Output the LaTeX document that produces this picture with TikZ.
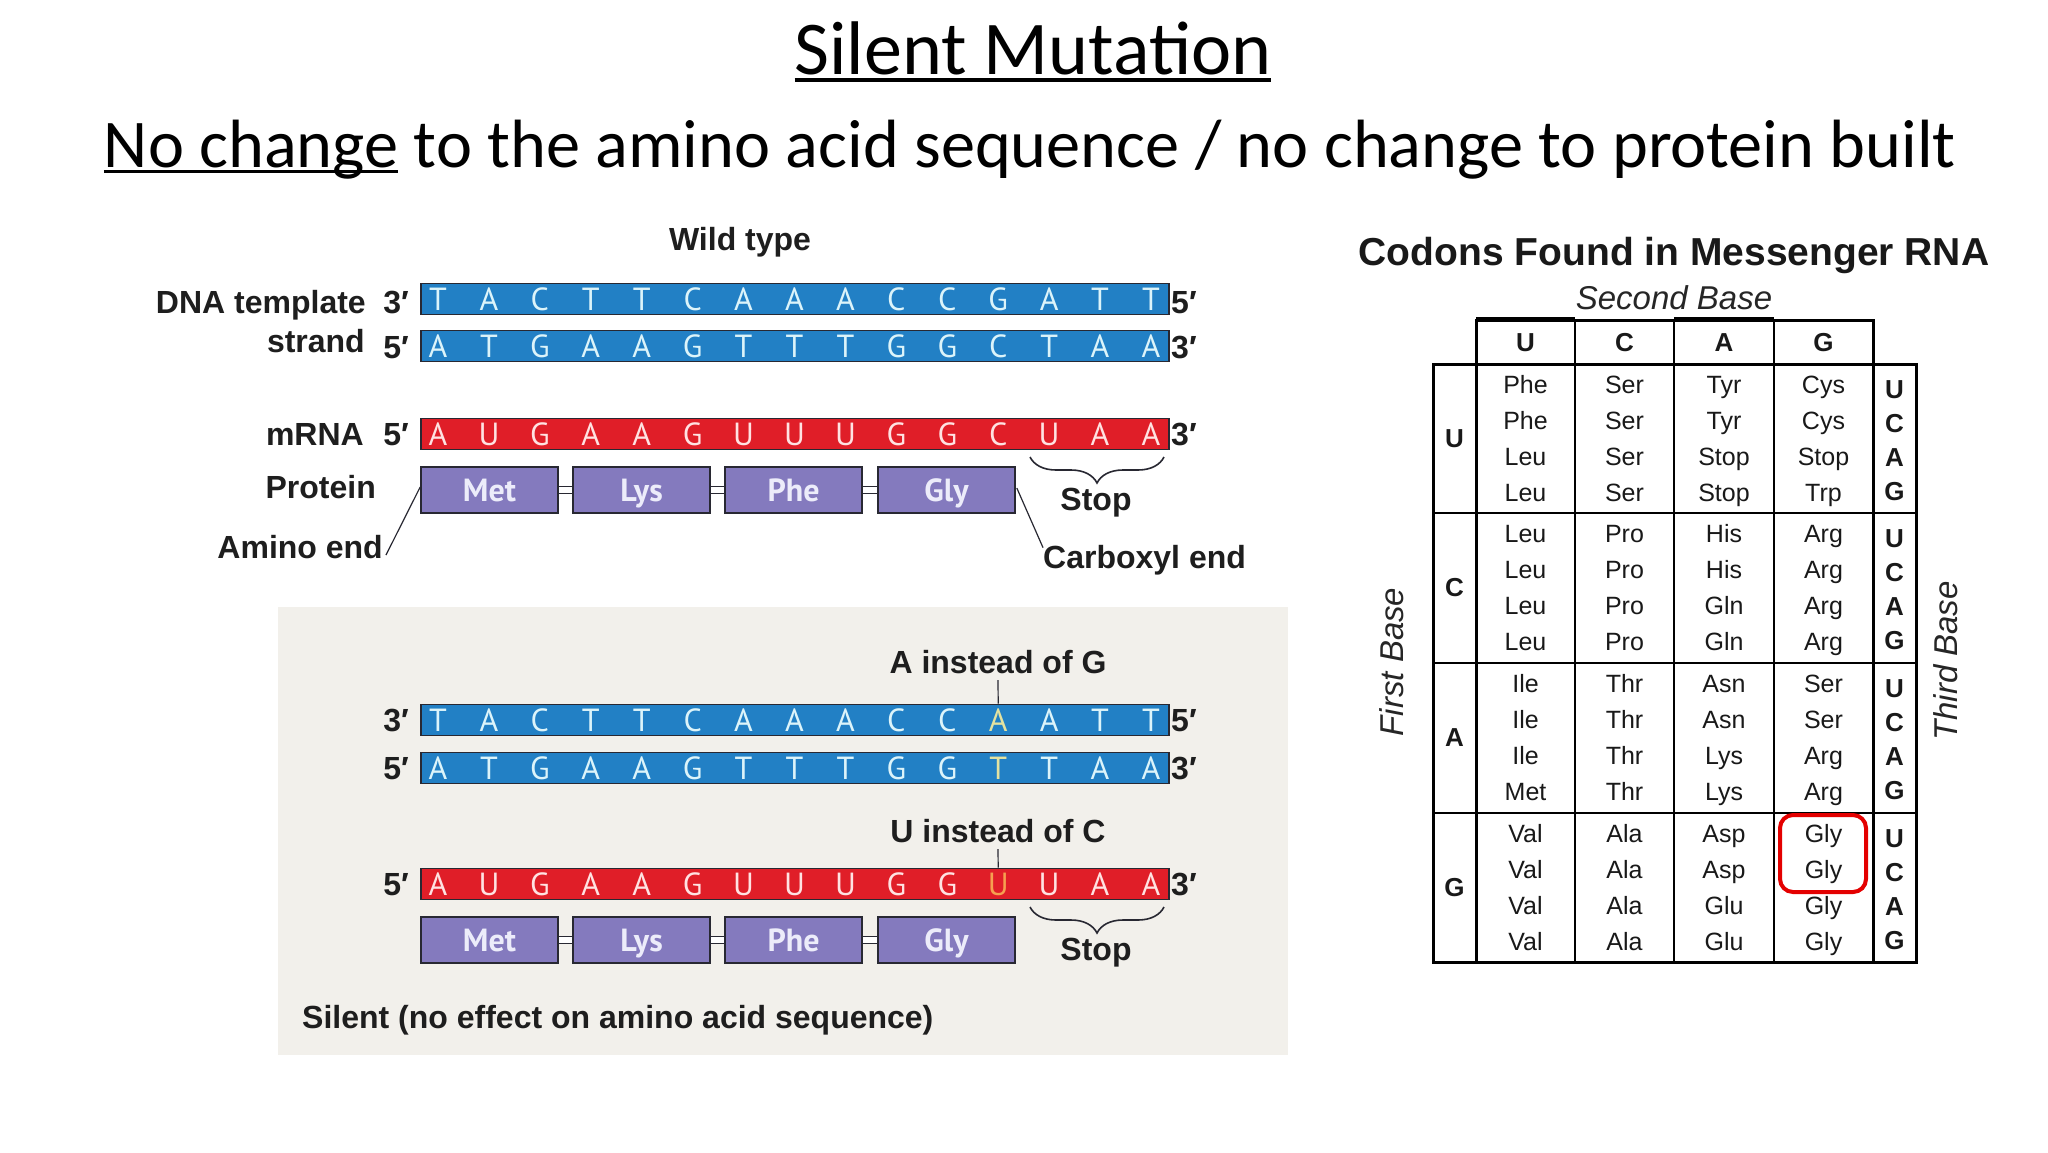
\documentclass[tikz,border=0pt]{standalone}
\usepackage{fontspec}
\setmainfont{Liberation Sans}
\newfontfamily\titlefont{Carlito}
\newfontfamily\basesfont{PT Sans}
\usetikzlibrary{decorations.pathreplacing,calc}
\definecolor{dnablue}{RGB}{34,128,197}
\definecolor{rnared}{RGB}{224,30,40}
\definecolor{protpurple}{RGB}{132,122,190}
\definecolor{panelbeige}{RGB}{242,240,235}
\definecolor{dnaletter}{RGB}{220,244,250}
\definecolor{rnaletter}{RGB}{255,226,226}
\definecolor{mutyellow}{RGB}{228,226,160}
\definecolor{mutorange}{RGB}{246,160,80}
\definecolor{boxletter}{RGB}{236,236,250}
\definecolor{outline}{RGB}{40,40,50}
\definecolor{labelgray}{RGB}{30,30,30}
\definecolor{highlightred}{RGB}{228,0,0}
\newcommand{\ulbox}[3]{\setbox0\hbox{#1}\rlap{\rule[-#2]{\wd0}{#3}}\box0\relax}
\tikzset{
 lbl/.style={font=\bfseries\fontsize{32}{36}\selectfont, text=labelgray, inner sep=0pt},
 strandbar/.style={draw=outline, line width=1.6, minimum width=748, minimum height=31, inner sep=0pt},
 baselet/.style={font=\basesfont\fontsize{32}{36}\selectfont, anchor=base, inner sep=0pt},
 protbox/.style={draw=outline, line width=1.6, fill=protpurple, minimum width=137, minimum height=46, inner sep=0pt, text height=22, text depth=0, text=boxletter, font=\basesfont\bfseries\fontsize{32}{36}\selectfont},
 linkbar/.style={draw=outline, line width=1.2, fill=white},
 codon/.style={font=\fontsize{25}{28}\selectfont, anchor=base, inner sep=0pt, text=black!90},
 basehead/.style={font=\bfseries\fontsize{26}{28}\selectfont, anchor=base, inner sep=0pt, text=black!90},
 axislbl/.style={font=\itshape\fontsize{33}{36}\selectfont, inner sep=0pt, text=black!85},
 thickrule/.style={line width=3},
 thinrule/.style={line width=2},
 pointer/.style={draw=outline, line width=1.2},
 stopbrace/.style={draw=outline, line width=1.6, decorate, decoration={brace, mirror, amplitude=26}},
}
\newcommand{\strandrow}[5]{%
 \node[strandbar, fill=#3] (#1) at (795,#2) {};
 \foreach \l [count=\i from 0] in {#5}
   \node[baselet, text=#4] (#1-\i) at (438+50.93*\i, #2+11.5) {\l};
}
\newcommand{\proteinrow}[2]{%
 \node[protbox] (#1met) at (489.5,#2) {Met};
 \node[protbox] (#1lys) at (641.5,#2) {Lys};
 \node[protbox] (#1phe) at (793.5,#2) {Phe};
 \node[protbox] (#1gly) at (946.5,#2) {Gly};
 \draw[linkbar] ($(#1met.east)+(0,-3.5)$) rectangle ($(#1lys.west)+(0,3.5)$);
 \draw[linkbar] ($(#1lys.east)+(0,-3.5)$) rectangle ($(#1phe.west)+(0,3.5)$);
 \draw[linkbar] ($(#1phe.east)+(0,-3.5)$) rectangle ($(#1gly.west)+(0,3.5)$);
}
\newcommand{\codonblock}[4]{%
 \node[basehead] (#1first) at (1454.5,#2+83.5) {#3};
 \foreach \cx/\ca/\cb/\cc/\cd [count=\k] in {#4} {
   \node[codon] (#1\k a) at (\cx,#2+29) {\ca};
   \node[codon] (#1\k b) at (\cx,#2+65.2) {\cb};
   \node[codon] (#1\k c) at (\cx,#2+101.4) {\cc};
   \node[codon] (#1\k d) at (\cx,#2+137.6) {\cd};
 }
 \foreach \t [count=\j from 0] in {U,C,A,G}
   \node[basehead] (#1third\j) at (1894.5,#2+34+34.3*\j) {\t};
}
\begin{document}
\begin{tikzpicture}[x=1pt,y=-1pt]
\useasboundingbox (0,0) rectangle (2048,1152);
\fill[white] (0,0) rectangle (2048,1152);

% titles
\node[font=\titlefont\fontsize{76}{90}\selectfont, anchor=base, inner sep=0pt] (title) at (1033,74) {\ulbox{Silent Mutation}{8pt}{4pt}};
\node[font=\titlefont\fontsize{68.3}{80}\selectfont, anchor=base, inner sep=0pt] (subtitle) at (1030,167) {\ulbox{No change}{6pt}{3pt} to the amino acid sequence / no change to protein built};

% ---------- wild type ----------
\node[lbl, anchor=base] (wild) at (740,250) {Wild type};
\strandrow{wt}{299}{dnablue}{dnaletter}{T,A,C,T,T,C,A,A,A,C,C,G,A,T,T}
\strandrow{wc}{346}{dnablue}{dnaletter}{A,T,G,A,A,G,T,T,T,G,G,C,T,A,A}
\strandrow{wm}{434}{rnared}{rnaletter}{A,U,G,A,A,G,U,U,U,G,G,C,U,A,A}
\node[lbl, anchor=base east] (dnalbl) at (366,313) {DNA template};
\node[lbl, anchor=base east] (strandlbl) at (365,352) {strand};
\node[lbl, anchor=base east] (mrnalbl) at (364,445) {mRNA};
\node[lbl, anchor=base east] (protlbl) at (376,498) {Protein};
\node[lbl, anchor=base] (wp1) at (396,313) {3′};
\node[lbl, anchor=base] (wp2) at (396,358) {5′};
\node[lbl, anchor=base] (wp3) at (396,445) {5′};
\node[lbl, anchor=base west] (wq1) at (1171,313) {5′};
\node[lbl, anchor=base west] (wq2) at (1171,358) {3′};
\node[lbl, anchor=base west] (wq3) at (1171,445) {3′};
\proteinrow{w}{490}
\coordinate (wbl) at (1030,457);
\coordinate (wbr) at (1164,457);
\draw[stopbrace] (wbl) -- (wbr);
\node[lbl, anchor=base] (wstop) at (1096,510) {Stop};
\node[lbl, anchor=base east] (amino) at (383,558) {Amino end};
\draw[pointer] ($(amino.base east)+(3,-3)$) -- ($(wmet.west)+(0,-3)$);
\node[lbl, anchor=base west] (carb) at (1043,568) {Carboxyl end};
\draw[pointer] ($(wgly.east)+(1,-2)$) -- ($(carb.north west)+(0,3)$);

% ---------- silent mutant panel ----------
\node[fill=panelbeige, minimum width=1010, minimum height=448, inner sep=0pt, anchor=north west] (panel) at (278,607) {};
\node[lbl, anchor=base] (ainst) at (998,673) {A instead of G};
\strandrow{mt}{720}{dnablue}{dnaletter}{T,A,C,T,T,C,A,A,A,C,C,{},A,T,T}
\node[baselet, text=mutyellow] (mtA) at (998.2,731.5) {A};
\draw[pointer] ($(ainst.base)+(0,7)$) -- (mtA |- mt.north);
\strandrow{mc}{768}{dnablue}{dnaletter}{A,T,G,A,A,G,T,T,T,G,G,{},T,A,A}
\node[baselet, text=mutyellow] (mcT) at (998.2,779.5) {T};
\node[lbl, anchor=base] (uinst) at (998,842) {U instead of C};
\strandrow{mm}{884}{rnared}{rnaletter}{A,U,G,A,A,G,U,U,U,G,G,{},U,A,A}
\node[baselet, text=mutorange] (mmU) at (998.2,895.5) {U};
\draw[pointer] ($(uinst.base)+(0,7)$) -- (mmU |- mm.north);
\node[lbl, anchor=base] (mp1) at (396,731) {3′};
\node[lbl, anchor=base] (mp2) at (396,779) {5′};
\node[lbl, anchor=base] (mp3) at (396,895) {5′};
\node[lbl, anchor=base west] (mq1) at (1171,731) {5′};
\node[lbl, anchor=base west] (mq2) at (1171,779) {3′};
\node[lbl, anchor=base west] (mq3) at (1171,895) {3′};
\proteinrow{m}{940}
\coordinate (mbl) at (1030,907);
\coordinate (mbr) at (1164,907);
\draw[stopbrace] (mbl) -- (mbr);
\node[lbl, anchor=base] (mstop) at (1096,960) {Stop};
\node[lbl, anchor=base west] (silent) at (302,1028) {Silent (no effect on amino acid sequence)};

% ---------- codon table ----------
\node[font=\bfseries\fontsize{39}{44}\selectfont, anchor=base, inner sep=0pt, text=black!90] (codtitle) at (1674,265) {Codons Found in Messenger RNA};
\node[axislbl, anchor=base] (second) at (1674,309) {Second Base};
\node[axislbl, rotate=90] (firstlbl) at (1392,662) {First Base};
\node[axislbl, rotate=90] (thirdlbl) at (1946,661) {Third Base};
\foreach \x in {1575,1674,1774} \draw[thinrule] (\x,320) -- (\x,962);
\foreach \y in {513,663,813} \draw[thinrule] (1433,\y) -- (1916,\y);
\draw[thickrule] (1476,320) rectangle (1873,364);
\draw[line width=4] (1476,318.5) -- (1575,318.5);
\draw[line width=4] (1674,318.5) -- (1774,318.5);
\draw[thickrule] (1433,364) rectangle (1916,962);
\draw[thickrule] (1476,364) -- (1476,962);
\draw[thickrule] (1873,364) -- (1873,962);
\node[basehead] (hu) at (1525.5,351) {U};
\node[basehead] (hc) at (1624.5,351) {C};
\node[basehead] (ha) at (1724,351) {A};
\node[basehead] (hg) at (1823.5,351) {G};
\codonblock{bu}{364}{U}{1525.5/Phe/Phe/Leu/Leu, 1624.5/Ser/Ser/Ser/Ser, 1724/Tyr/Tyr/Stop/Stop, 1823.5/Cys/Cys/Stop/Trp}
\codonblock{bc}{513}{C}{1525.5/Leu/Leu/Leu/Leu, 1624.5/Pro/Pro/Pro/Pro, 1724/His/His/Gln/Gln, 1823.5/Arg/Arg/Arg/Arg}
\codonblock{ba}{663}{A}{1525.5/Ile/Ile/Ile/Met, 1624.5/Thr/Thr/Thr/Thr, 1724/Asn/Asn/Lys/Lys, 1823.5/Ser/Ser/Arg/Arg}
\codonblock{bg}{813}{G}{1525.5/Val/Val/Val/Val, 1624.5/Ala/Ala/Ala/Ala, 1724/Asp/Asp/Glu/Glu, 1823.5/Gly/Gly/Gly/Gly}
\node[draw=highlightred, line width=4, rounded corners=13, minimum width=86, minimum height=77, inner sep=0pt] (hl) at (1823,853.5) {};
\end{tikzpicture}
\end{document}
